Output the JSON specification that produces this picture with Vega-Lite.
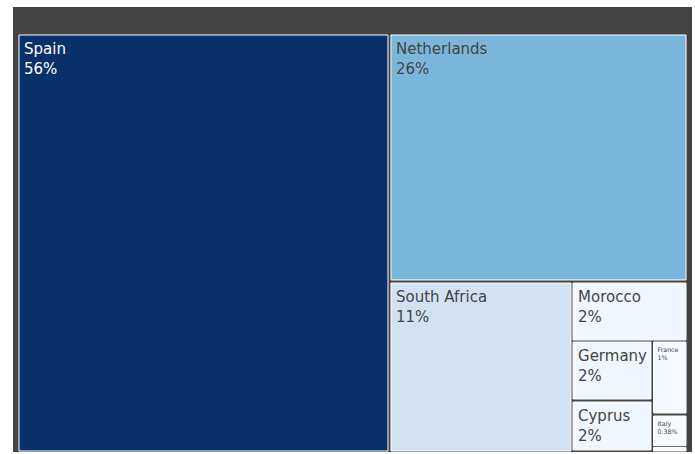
{
  "$schema": "https://vega.github.io/schema/vega-lite/v6.json",
  "width": 667,
  "height": 416,
  "autosize": {"type": "none"},
  "padding": {"left": 19, "top": 35, "right": 9, "bottom": 3},
  "background": "white",
  "config": {"view": {"stroke": null}, "font": "DejaVu Sans"},
  "datasets": {
    "tiles": [
      {"country": "Spain", "share": 56, "pct": "56%", "x0": 0, "x1": 55.32, "y0": 0, "y1": 100},
      {"country": "Netherlands", "share": 26, "pct": "26%", "x0": 55.77, "x1": 100, "y0": 0, "y1": 58.89},
      {"country": "South Africa", "share": 11, "pct": "11%", "x0": 55.77, "x1": 82.76, "y0": 59.62, "y1": 100},
      {"country": "Morocco", "share": 2, "pct": "2%", "x0": 83.06, "x1": 100, "y0": 59.62, "y1": 73.32},
      {"country": "Germany", "share": 2, "pct": "2%", "x0": 83.06, "x1": 94.75, "y0": 73.8, "y1": 87.5},
      {"country": "Cyprus", "share": 2, "pct": "2%", "x0": 83.06, "x1": 94.75, "y0": 88.22, "y1": 99.76},
      {"country": "France", "share": 1, "pct": "1%", "x0": 95.13, "x1": 100, "y0": 73.8, "y1": 90.87},
      {"country": "Italy", "share": 0.38, "pct": "0.38%", "x0": 95.13, "x1": 100, "y0": 91.59, "y1": 98.73},
      {"country": "Other", "share": 0.05, "pct": "0.05%", "x0": 95.13, "x1": 100, "y0": 99.15, "y1": 100}
    ]
  },
  "encoding": {
    "x": {"field": "x0", "type": "quantitative", "scale": {"domain": [0, 100], "nice": false, "zero": false}, "axis": null},
    "x2": {"field": "x1"},
    "y": {"field": "y0", "type": "quantitative", "scale": {"domain": [0, 100], "nice": false, "zero": false, "reverse": true}, "axis": null},
    "y2": {"field": "y1"}
  },
  "layer": [
    {
      "data": {"values": [{"node": "total", "x0": -0.9, "x1": 100.9, "y0": -6.73, "y1": 100.24}]},
      "mark": {"type": "rect", "fill": "#444444"}
    },
    {
      "data": {"name": "tiles"},
      "mark": {"type": "rect", "stroke": "white", "strokeWidth": 1},
      "encoding": {
        "color": {
          "field": "share",
          "type": "quantitative",
          "scale": {
            "domain": [0, 7, 14, 21, 28, 35, 42, 49, 56],
            "range": ["#f7fbff", "#deebf7", "#c6dbef", "#9ecae1", "#6baed6", "#4292c6", "#2171b5", "#08519c", "#08306b"]
          },
          "legend": null
        },
        "tooltip": [{"field": "country"}, {"field": "pct"}]
      }
    },
    {
      "data": {"name": "tiles"},
      "transform": [{"filter": "datum.share >= 2"}],
      "mark": {"type": "text", "align": "left", "baseline": "alphabetic", "dx": 5, "dy": 19, "fontSize": 15},
      "encoding": {
        "x2": null, "y2": null,
        "text": {"field": "country"},
        "color": {"condition": {"test": "datum.share > 40", "value": "white"}, "value": "#444444"}
      }
    },
    {
      "data": {"name": "tiles"},
      "transform": [{"filter": "datum.share >= 2"}],
      "mark": {"type": "text", "align": "left", "baseline": "alphabetic", "dx": 5, "dy": 39, "fontSize": 15},
      "encoding": {
        "x2": null, "y2": null,
        "text": {"field": "pct"},
        "color": {"condition": {"test": "datum.share > 40", "value": "white"}, "value": "#444444"}
      }
    },
    {
      "data": {"name": "tiles"},
      "transform": [{"filter": "datum.share < 2 && datum.share > 0.1"}],
      "mark": {"type": "text", "align": "left", "baseline": "alphabetic", "dx": 4, "dy": 10, "fontSize": 6.3, "color": "#444444"},
      "encoding": {"x2": null, "y2": null, "text": {"field": "country"}}
    },
    {
      "data": {"name": "tiles"},
      "transform": [{"filter": "datum.share < 2 && datum.share > 0.1"}],
      "mark": {"type": "text", "align": "left", "baseline": "alphabetic", "dx": 4, "dy": 17.5, "fontSize": 6.3, "color": "#444444"},
      "encoding": {"x2": null, "y2": null, "text": {"field": "pct"}}
    }
  ]
}
